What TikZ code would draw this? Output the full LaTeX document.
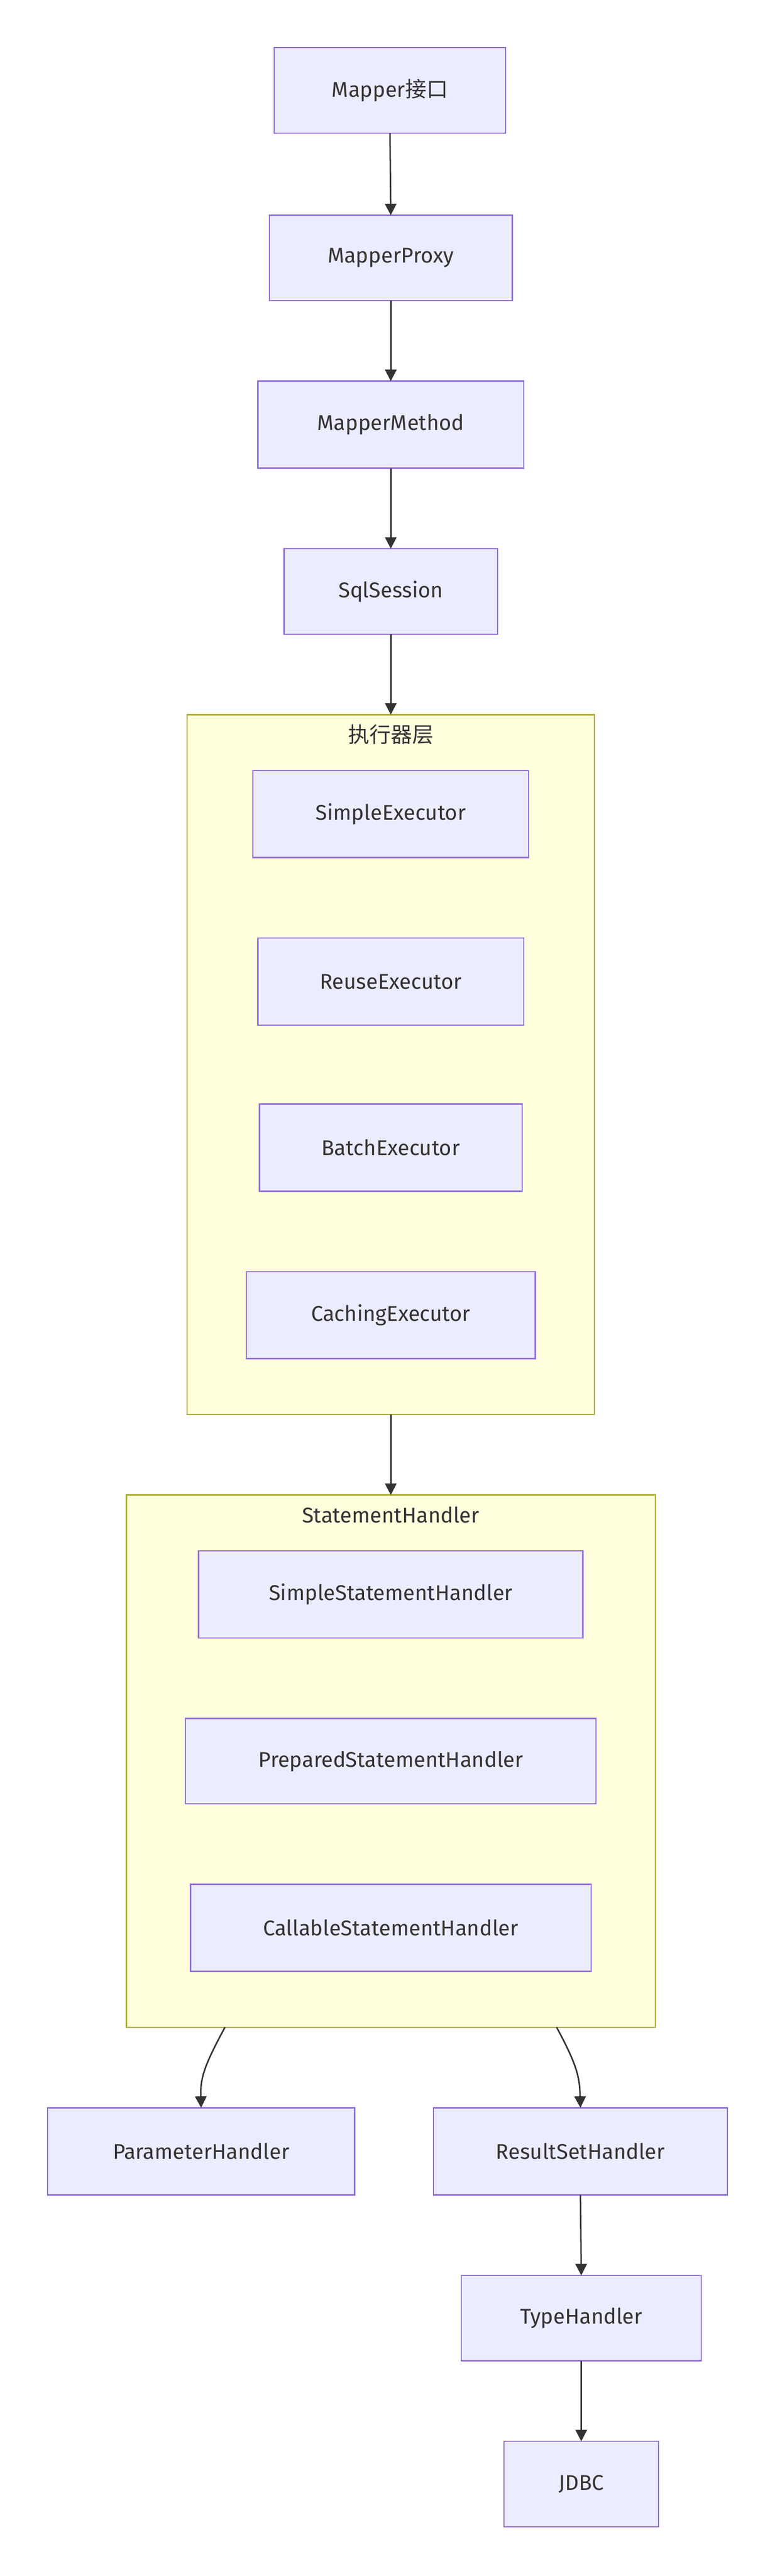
\documentclass[tikz,border=0pt]{standalone}
\usepackage{fontspec}
\setmainfont{Fira Sans}
\newfontfamily\cjk{Noto Sans CJK SC}
\usetikzlibrary{arrows.meta}
\definecolor{nfill}{HTML}{ECECFF}
\definecolor{nline}{HTML}{9370DB}
\definecolor{cfill}{HTML}{FFFFDE}
\definecolor{cline}{HTML}{AAAA33}
\definecolor{tx}{HTML}{333333}
\tikzset{
 box/.style={draw=nline,fill=nfill,line width=0.8pt,font=\fontsize{13}{15}\selectfont,text=tx},
 clus/.style={draw=cline,fill=cfill,line width=0.8pt},
 ctitle/.style={font=\fontsize{13}{15}\selectfont,text=tx,anchor=center},
 arr/.style={draw=tx,line width=0.9pt,-{Triangle[length=7pt,width=7pt]}}
}
\newcommand{\bx}[6]{\path[box] (#2,#4) rectangle (#3,#5); \node[font=\fontsize{13}{15}\selectfont,text=tx,inner sep=0] (#1) at ({(#2+#3)/2},{(#4+#5)/2}) {#6};
 \coordinate (#1t) at ({(#2+#3)/2},#4); \coordinate (#1b) at ({(#2+#3)/2},#5);}
\begin{document}
\begin{tikzpicture}[x=1pt,y=-1pt]
\useasboundingbox (0,0) rectangle (471.7,1568);
\path[clus] (114,435) rectangle (362,861);
\node[ctitle] (t1) at (238,447) {\cjk 执行器层};
\coordinate (c1t) at (238,435); \coordinate (c1b) at (238,861);
\path[clus] (77,910) rectangle (399,1234);
\node[ctitle] (t2) at (238,922) {StatementHandler};
\coordinate (c2t) at (238,910);
\coordinate (c2l) at (137,1234); \coordinate (c2r) at (339,1234);
\bx{a}{167}{308}{29}{81}{Mapper{\cjk 接口}}
\bx{b}{164}{312}{131}{183}{MapperProxy}
\bx{c}{157}{319}{232}{285}{MapperMethod}
\bx{d}{173}{303}{334}{386}{SqlSession}
\bx{e1}{154}{322}{469}{522}{SimpleExecutor}
\bx{e2}{157}{319}{571}{624}{ReuseExecutor}
\bx{e3}{158}{318}{672}{725}{BatchExecutor}
\bx{e4}{150}{326}{774}{827}{CachingExecutor}
\bx{s1}{121}{355}{944}{997}{SimpleStatementHandler}
\bx{s2}{113}{363}{1046}{1098}{PreparedStatementHandler}
\bx{s3}{116}{360}{1147}{1200}{CallableStatementHandler}
\bx{p}{29}{216}{1283}{1336}{ParameterHandler}
\bx{r}{264}{443}{1283}{1336}{ResultSetHandler}
\bx{ty}{281}{427}{1385}{1437}{TypeHandler}
\bx{j}{307}{401}{1486}{1538}{JDBC}
\draw[arr] (ab) -- (bt);
\draw[arr] (bb) -- (ct);
\draw[arr] (cb) -- (dt);
\draw[arr] (db) -- (c1t);
\draw[arr] (c1b) -- (c2t);
\draw[arr] (c2l) .. controls (124,1258) and (122,1265) .. (pt);
\draw[arr] (c2r) .. controls (352,1258) and (353,1265) .. (rt);
\draw[arr] (rb) -- (tyt);
\draw[arr] (tyb) -- (jt);
\end{tikzpicture}
\end{document}
